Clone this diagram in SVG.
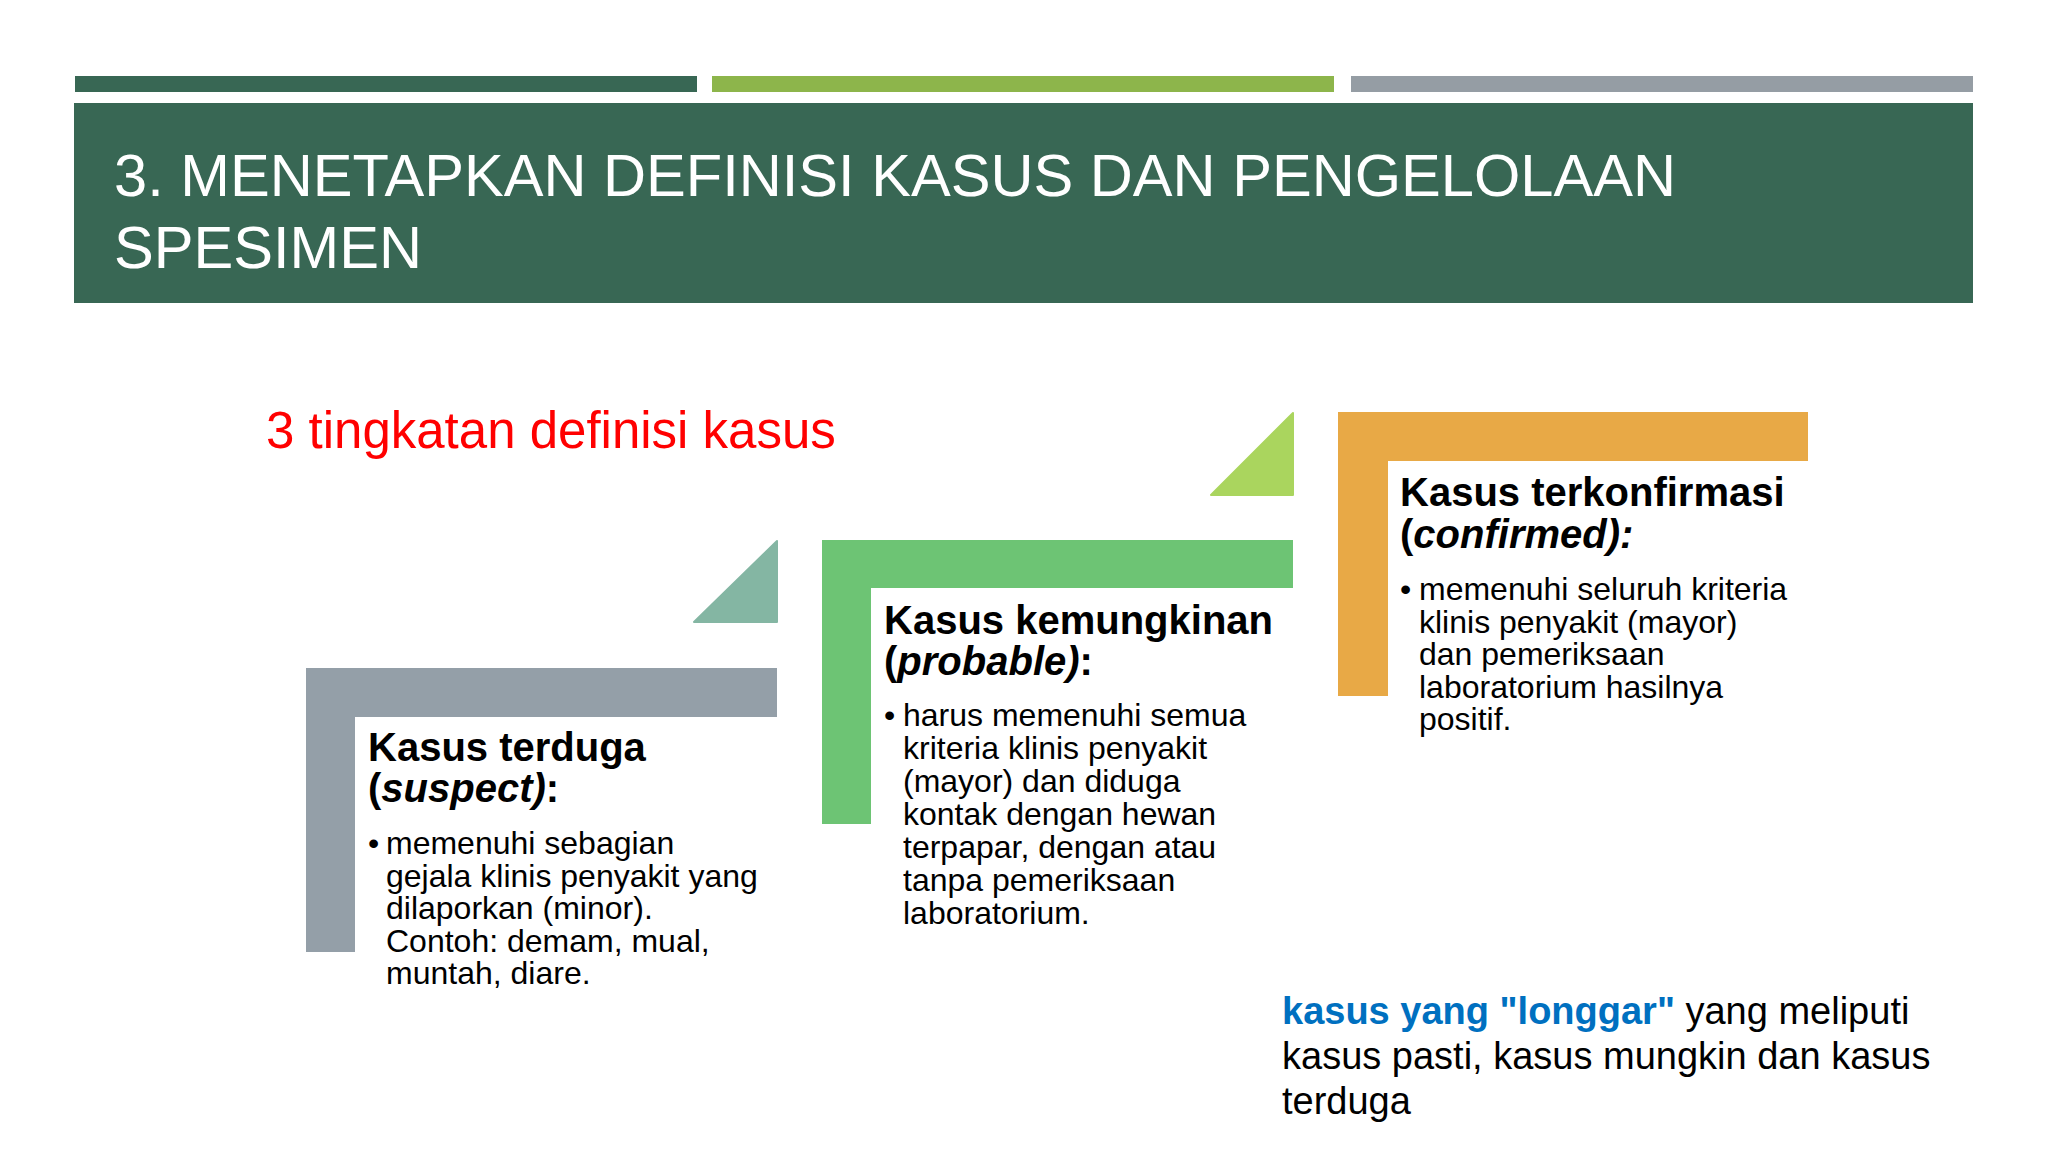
<svg xmlns="http://www.w3.org/2000/svg" width="2048" height="1152" viewBox="0 0 2048 1152">
  <style>
    .hdr { font-family: "Liberation Sans", Arial, sans-serif; font-size: 59.6px; fill: #ffffff; }
    .sub { font-family: "Liberation Sans", Arial, sans-serif; font-size: 51px; fill: #ff0000; }
    .ttl { font-family: "Liberation Sans", Arial, sans-serif; font-size: 40px; font-weight: bold; fill: #000000; }
    .bod { font-family: "Liberation Sans", Arial, sans-serif; font-size: 32px; fill: #000000; }
    .note { font-family: "Liberation Sans", Arial, sans-serif; font-size: 38px; fill: #000000; }
    .blue { font-weight: bold; fill: #0070c0; }
    .it { font-style: italic; }
  </style>
  <rect x="0" y="0" width="2048" height="1152" fill="#ffffff"/>

  <g id="top-bars">
    <rect x="75" y="76" width="622" height="16" fill="#386754"/>
    <rect x="712" y="76" width="622" height="16" fill="#8db54b"/>
    <rect x="1351" y="76" width="622" height="16" fill="#959da4"/>
  </g>

  <g id="header">
    <rect x="74" y="103" width="1899" height="200" fill="#386754"/>
    <text class="hdr" x="114" y="196">3. MENETAPKAN DEFINISI KASUS DAN PENGELOLAAN</text>
    <text class="hdr" x="114" y="268">SPESIMEN</text>
  </g>

  <g id="subtitle">
    <text class="sub" x="266" y="448">3 tingkatan definisi kasus</text>
  </g>

  <g id="node-suspect">
    <path d="M694,622 L777,541 L777,622 Z" fill="#84b6a3" stroke="#84b6a3" stroke-width="2" stroke-linejoin="round"/>
    <path d="M306,668 L777,668 L777,717 L355,717 L355,952 L306,952 Z" fill="#949fa8"/>
    <text class="ttl" x="368" y="761">Kasus terduga</text>
    <text class="ttl" x="368" y="802">(<tspan class="it">suspect)</tspan>:</text>
    <text class="bod" x="368" y="854">•</text>
    <text class="bod">
      <tspan x="386" y="854">memenuhi sebagian</tspan>
      <tspan x="386" y="886.5">gejala klinis penyakit yang</tspan>
      <tspan x="386" y="919">dilaporkan (minor).</tspan>
      <tspan x="386" y="951.5">Contoh: demam, mual,</tspan>
      <tspan x="386" y="984">muntah, diare.</tspan>
    </text>
  </g>

  <g id="node-probable">
    <path d="M1211,495 L1293,413 L1293,495 Z" fill="#aad55e" stroke="#aad55e" stroke-width="2" stroke-linejoin="round"/>
    <path d="M822,540 L1293,540 L1293,588 L871,588 L871,824 L822,824 Z" fill="#6dc474"/>
    <text class="ttl" x="884" y="634">Kasus kemungkinan</text>
    <text class="ttl" x="884" y="675">(<tspan class="it">probable)</tspan>:</text>
    <text class="bod" x="884" y="726">•</text>
    <text class="bod">
      <tspan x="903" y="726">harus memenuhi semua</tspan>
      <tspan x="903" y="759">kriteria klinis penyakit</tspan>
      <tspan x="903" y="792">(mayor) dan diduga</tspan>
      <tspan x="903" y="825">kontak dengan hewan</tspan>
      <tspan x="903" y="858">terpapar, dengan atau</tspan>
      <tspan x="903" y="891">tanpa pemeriksaan</tspan>
      <tspan x="903" y="924">laboratorium.</tspan>
    </text>
  </g>

  <g id="node-confirmed">
    <path d="M1338,412 L1808,412 L1808,461 L1388,461 L1388,696 L1338,696 Z" fill="#e8a946"/>
    <text class="ttl" x="1400" y="506">Kasus terkonfirmasi</text>
    <text class="ttl" x="1400" y="548">(<tspan class="it">confirmed):</tspan></text>
    <text class="bod" x="1400" y="600">•</text>
    <text class="bod">
      <tspan x="1419" y="600">memenuhi seluruh kriteria</tspan>
      <tspan x="1419" y="632.5">klinis penyakit (mayor)</tspan>
      <tspan x="1419" y="665">dan pemeriksaan</tspan>
      <tspan x="1419" y="697.5">laboratorium hasilnya</tspan>
      <tspan x="1419" y="730">positif.</tspan>
    </text>
  </g>

  <g id="connectors"></g>

  <g id="note">
    <text class="note">
      <tspan x="1282" y="1024"><tspan class="blue">kasus yang "longgar"</tspan> yang meliputi</tspan>
      <tspan x="1282" y="1069">kasus pasti, kasus mungkin dan kasus</tspan>
      <tspan x="1282" y="1114">terduga</tspan>
    </text>
  </g>
</svg>
